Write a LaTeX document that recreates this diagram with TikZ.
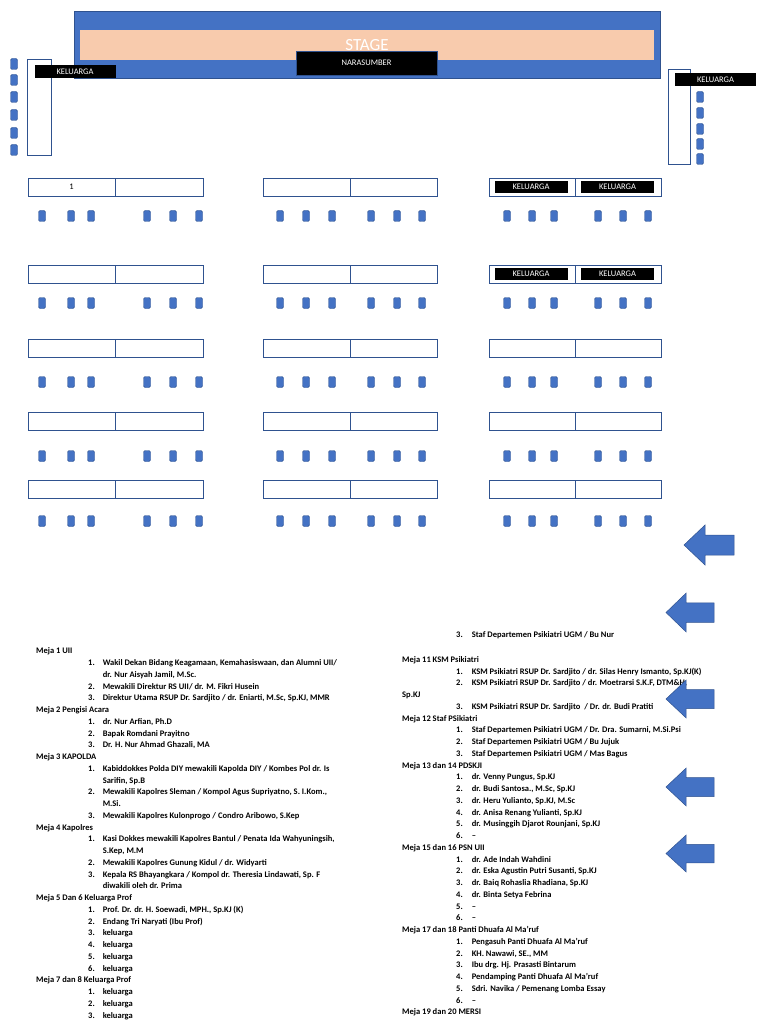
\documentclass[tikz,border=0pt]{standalone}
\usepackage{fontspec}
\setmainfont{Carlito}
\definecolor{sblue}{HTML}{4472C4}
\definecolor{dblue}{HTML}{2F528F}
\definecolor{peach}{HTML}{F8CBAD}
\tikzset{
 chair/.style={fill=sblue,draw=dblue,line width=0.4pt,rounded corners=1.5pt,minimum width=7pt,minimum height=11pt,inner sep=0pt},
 tbl/.style={draw=dblue,line width=0.9pt,fill=white},
 blk/.style={fill=black,text=white,inner sep=0pt,font=\fontsize{8.5}{9}\selectfont},
 arr/.style={fill=sblue,draw=dblue,line width=0.5pt},
 txt/.style={anchor=north west,inner sep=0pt,align=left}
}
\newcounter{cc}
\newcommand\chairs[2]{\foreach \xx in {#2}{\stepcounter{cc}\node[chair] (c\thecc) at (\xx,#1) {};}}
\newcommand\tabl[5]{% name, x0, xm, x1, ytop  (height 18)
 \draw[tbl] (#2,#5) rectangle (#3,#5+18);
 \draw[tbl] (#3,#5) rectangle (#4,#5+18);
 \coordinate (#1) at (#3,#5+9);}
\newcommand\larrow[5]{% name x0 y0 x1 y1
 \path[arr] (#2,{(#3+#5)/2}) coordinate (#1) -- ({#2+0.42*(#4-#2)},#3) -- ({#2+0.42*(#4-#2)},{#3+0.25*(#5-#3)}) -- (#4,{#3+0.25*(#5-#3)}) -- (#4,{#3+0.75*(#5-#3)}) -- ({#2+0.42*(#4-#2)},{#3+0.75*(#5-#3)}) -- ({#2+0.42*(#4-#2)},#5) -- cycle;}
\begin{document}
\begin{tikzpicture}[x=1pt,y=-1pt]
\useasboundingbox (0,0) rectangle (768,1024);
\clip (0,0) rectangle (768,1024);
% stage
\draw[fill=sblue,draw=dblue] (74,11) rectangle (660,78);
\fill[peach] (80,30) rectangle (654,60);
\node[text=white,font=\fontsize{17}{17}\selectfont] (stage) at (367,45) {STAGE};
\node[blk,draw=dblue,minimum width=141pt,minimum height=24pt] (nara) at (366.5,63) {NARASUMBER};
% left side
\draw[tbl,line width=0.6pt,fill=none] (27,59) rectangle (51,155);
\node[blk,minimum width=81pt,minimum height=13pt] (kl) at (75,71.5) {KELUARGA};
\foreach \yy in {64,80,97,115,133,150}{\stepcounter{cc}\node[chair] (c\thecc) at (14,\yy) {};}
% right side
\draw[tbl,line width=0.6pt,fill=none] (668,69) rectangle (690,164);
\node[blk,minimum width=81pt,minimum height=13pt] (kr) at (715.5,80) {KELUARGA};
\foreach \yy in {97,113,129,144,159}{\stepcounter{cc}\node[chair] (c\thecc) at (700,\yy) {};}
% tables
\foreach \r/\y in {1/178,2/265,3/339,4/412,5/480}{
 \tabl{L\r}{28}{115}{203}{\y}
 \tabl{M\r}{263}{350}{437}{\y}
 \tabl{R\r}{489}{575}{661}{\y}
}
\node (one) at (71.5,187) {\fontsize{8.5}{9}\selectfont 1};
\foreach \y in {178,265}{
 \node[blk,minimum width=73pt,minimum height=12pt] at (531,\y+9) {KELUARGA};
 \node[blk,minimum width=73pt,minimum height=12pt] at (617.5,\y+9) {KELUARGA};
}
% chairs
\foreach \y in {216,303,382,456,521}{
 \chairs{\y}{42,71,91,147,173,199}
 \chairs{\y}{280,306,332,371,397,422}
 \chairs{\y}{507,532,554,598,623,648}
}
% text
\node[txt,font=\fontsize{8.5}{11.75}\selectfont\bfseries] (left) at (36,645.5) {%
\begin{tabular}{@{\hspace{52pt}}r@{\hspace{8pt}}l@{}}
\multicolumn{2}{@{}l@{}}{Meja 1 UII}\\
1. & Wakil Dekan Bidang Keagamaan, Kemahasiswaan, dan Alumni UII/\\
 & dr. Nur Aisyah Jamil, M.Sc.\\
2. & Mewakili Direktur RS UII/ dr. M. Fikri Husein\\
3. & Direktur Utama RSUP Dr. Sardjito / dr. Eniarti, M.Sc, Sp.KJ, MMR\\
\multicolumn{2}{@{}l@{}}{Meja 2 Pengisi Acara}\\
1. & dr. Nur Arfian, Ph.D\\
2. & Bapak Romdani Prayitno\\
3. & Dr. H. Nur Ahmad Ghazali, MA\\
\multicolumn{2}{@{}l@{}}{Meja 3 KAPOLDA}\\
1. & Kabiddokkes Polda DIY mewakili Kapolda DIY / Kombes Pol dr. Is\\
 & Sarifin, Sp.B\\
2. & Mewakili Kapolres Sleman / Kompol Agus Supriyatno, S. I.Kom.,\\
 & M.Si.\\
3. & Mewakili Kapolres Kulonprogo / Condro Aribowo, S.Kep\\
\multicolumn{2}{@{}l@{}}{Meja 4 Kapolres}\\
1. & Kasi Dokkes mewakili Kapolres Bantul / Penata Ida Wahyuningsih,\\
 & S.Kep, M.M\\
2. & Mewakili Kapolres Gunung Kidul / dr. Widyarti\\
3. & Kepala RS Bhayangkara / Kompol dr. Theresia Lindawati, Sp. F\\
 & diwakili oleh dr. Prima\\
\multicolumn{2}{@{}l@{}}{Meja 5 Dan 6 Keluarga Prof}\\
1. & Prof. Dr. dr. H. Soewadi, MPH., Sp.KJ (K)\\
2. & Endang Tri Naryati (Ibu Prof)\\
3. & keluarga\\
4. & keluarga\\
5. & keluarga\\
6. & keluarga\\
\multicolumn{2}{@{}l@{}}{Meja 7 dan 8 Keluarga Prof}\\
1. & keluarga\\
2. & keluarga\\
3. & keluarga\\
\end{tabular}};
\node[txt,font=\fontsize{8.5}{11.75}\selectfont\bfseries] (right) at (402,629.5) {%
\begin{tabular}{@{\hspace{54pt}}r@{\hspace{9pt}}l@{}}
3. & Staf Departemen Psikiatri UGM / Bu Nur\\
\multicolumn{2}{@{}l@{}}{}\\[1pt]
\multicolumn{2}{@{}l@{}}{Meja 11 KSM Psikiatri}\\
1. & KSM Psikiatri RSUP Dr. Sardjito / dr. Silas Henry Ismanto, Sp.KJ(K)\\
2. & KSM Psikiatri RSUP Dr. Sardjito / dr. Moetrarsi S.K.F, DTM\&H,\\
\multicolumn{2}{@{}l@{}}{Sp.KJ}\\
3. & KSM Psikiatri RSUP Dr. Sardjito \ / Dr. dr. Budi Pratiti\\
\multicolumn{2}{@{}l@{}}{Meja 12 Staf PSikiatri}\\
1. & Staf Departemen Psikiatri UGM / Dr. Dra. Sumarni, M.Si.Psi\\
2. & Staf Departemen Psikiatri UGM / Bu Jujuk\\
3. & Staf Departemen Psikiatri UGM / Mas Bagus\\
\multicolumn{2}{@{}l@{}}{Meja 13 dan 14 PDSKJI}\\
1. & dr. Venny Pungus, Sp.KJ\\
2. & dr. Budi Santosa., M.Sc, Sp.KJ\\
3. & dr. Heru Yulianto, Sp.KJ, M.Sc\\
4. & dr. Anisa Renang Yulianti, Sp.KJ\\
5. & dr. Musinggih Djarot Rounjani, Sp.KJ\\
6. & --\\
\multicolumn{2}{@{}l@{}}{Meja 15 dan 16 PSN UII}\\
1. & dr. Ade Indah Wahdini\\
2. & dr. Eska Agustin Putri Susanti, Sp.KJ\\
3. & dr. Baiq Rohaslia Rhadiana, Sp.KJ\\
4. & dr. Binta Setya Febrina\\
5. & --\\
6. & --\\
\multicolumn{2}{@{}l@{}}{Meja 17 dan 18 Panti Dhuafa Al Ma'ruf}\\
1. & Pengasuh Panti Dhuafa Al Ma'ruf\\
2. & KH. Nawawi, SE., MM\\
3. & Ibu drg. Hj. Prasasti Bintarum\\
4. & Pendamping Panti Dhuafa Al Ma'ruf\\
5. & Sdri. Navika / Pemenang Lomba Essay\\
6. & --\\
\multicolumn{2}{@{}l@{}}{Meja 19 dan 20 MERSI}\\
\end{tabular}};
% arrows
\larrow{a1}{684}{525}{734}{565}
\larrow{a2}{666}{593}{714}{632}
\larrow{a3}{666}{680}{714}{718}
\larrow{a4}{666}{768}{714}{806}
\larrow{a5}{666}{835}{714}{872}
\end{tikzpicture}
\end{document}
